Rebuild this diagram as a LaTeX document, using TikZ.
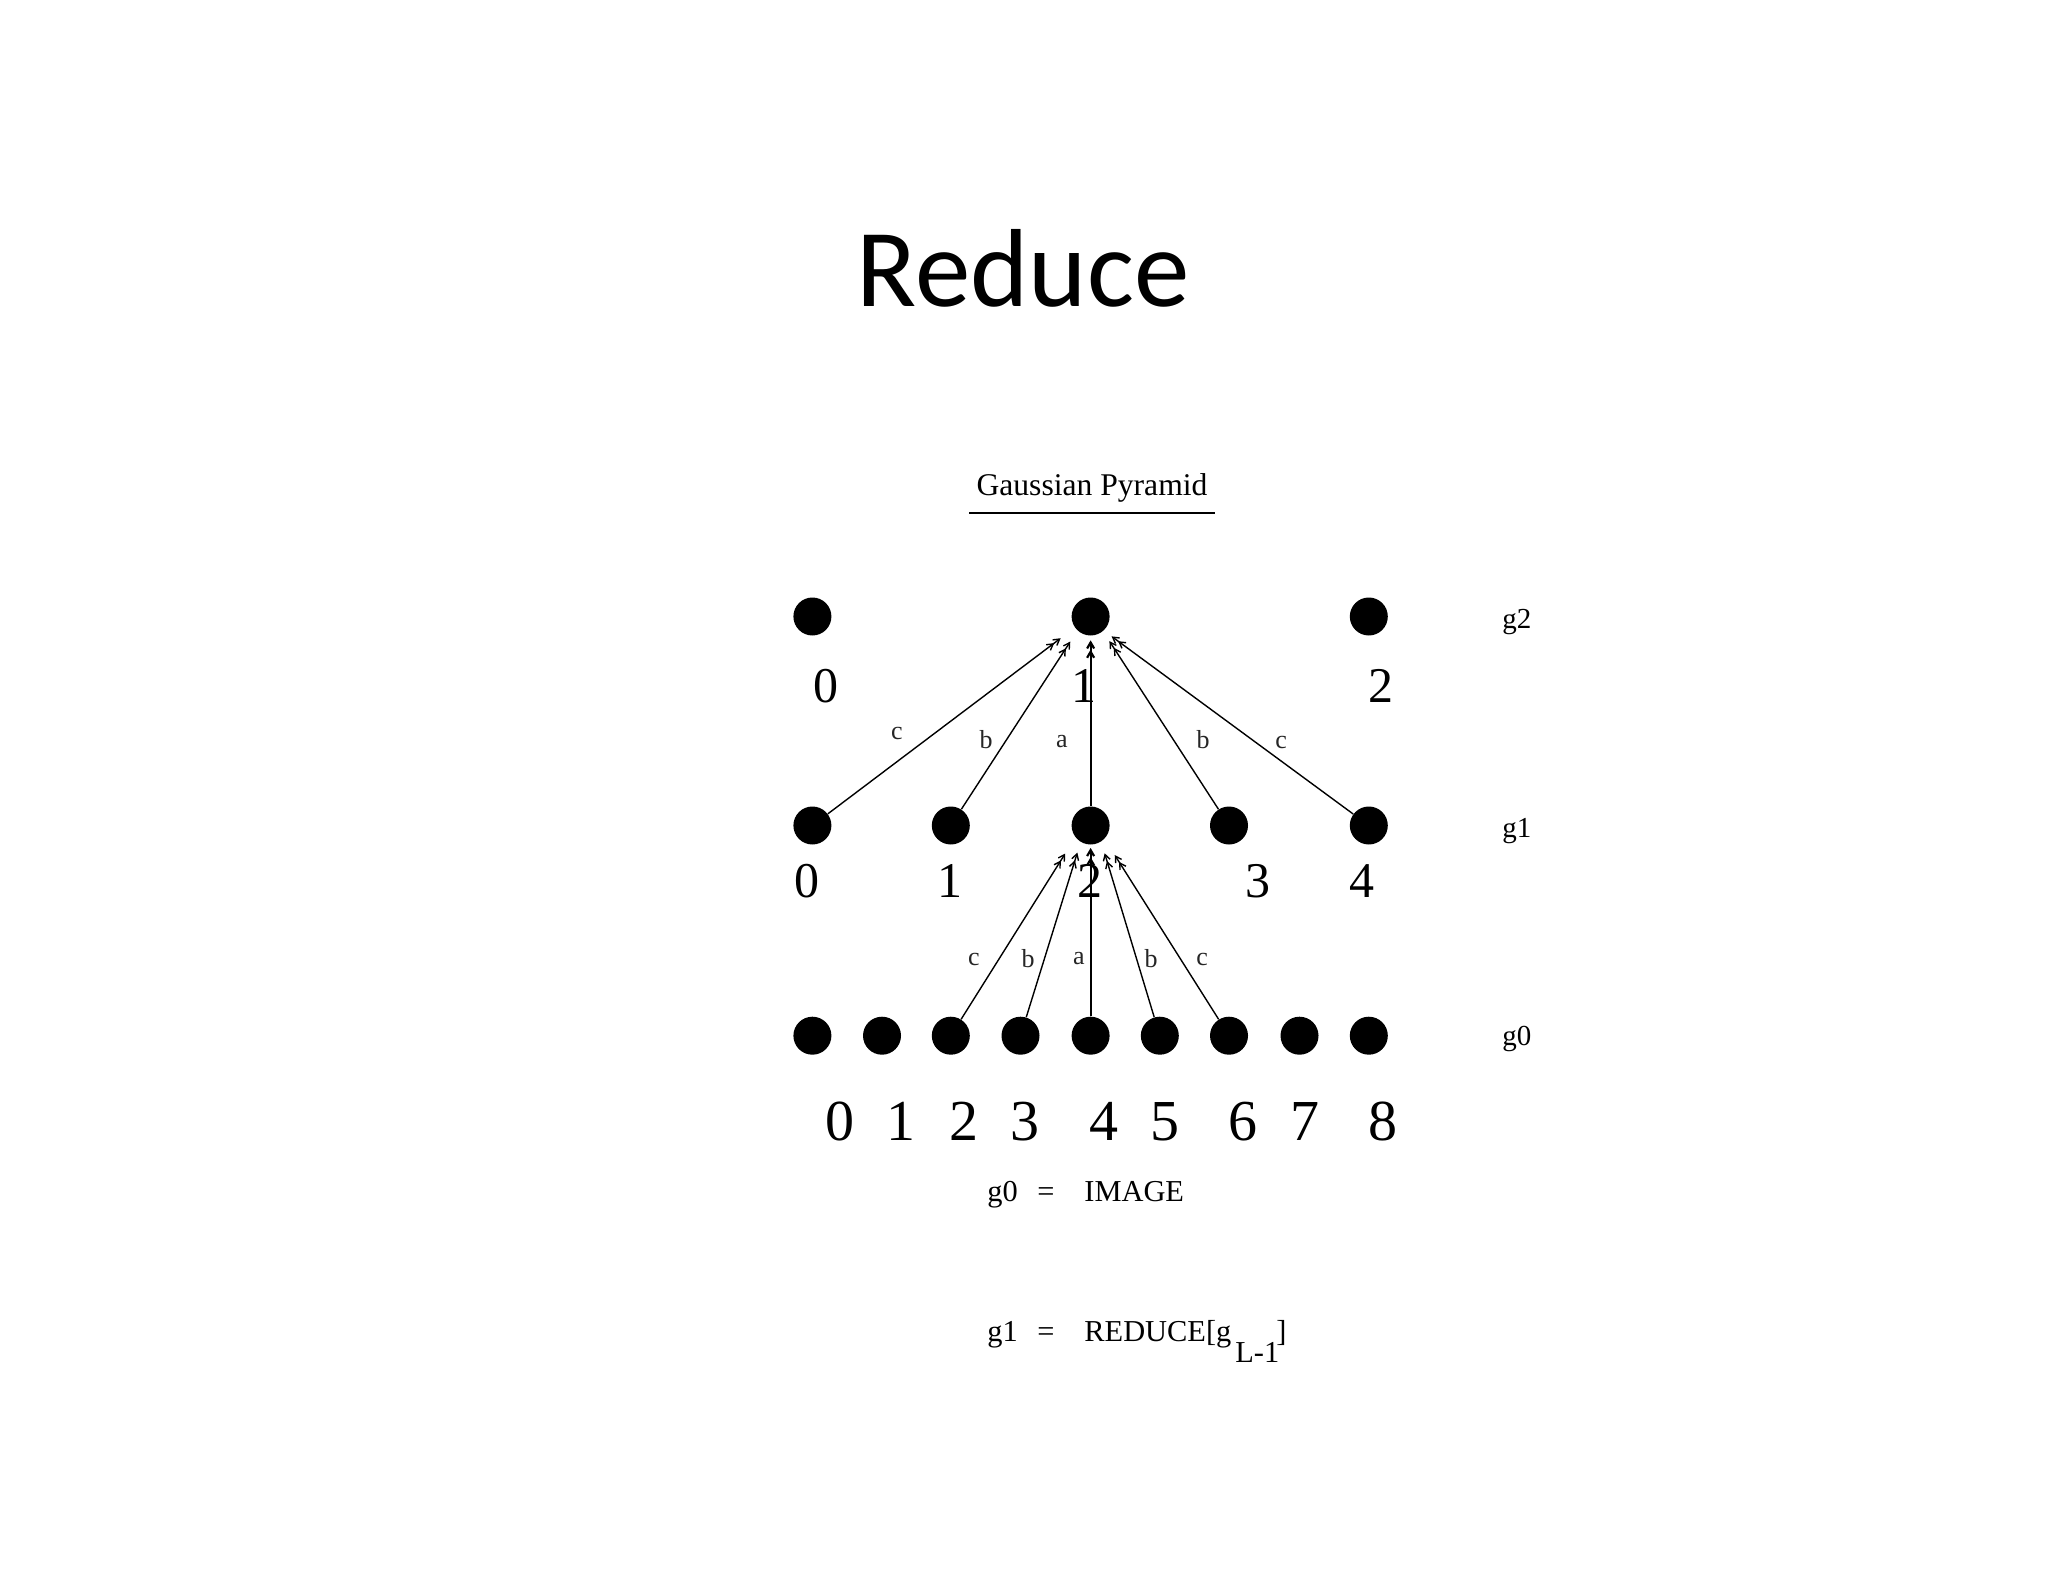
\documentclass[tikz,border=0pt]{standalone}
\usepackage{fontspec}
\setmainfont{Liberation Serif}
\newfontfamily\titlefont{Carlito}
\usetikzlibrary{arrows.meta}
\begin{document}
\begin{tikzpicture}[x=0.5pt,y=-0.5pt,
  dot/.style={circle,fill=black,inner sep=0pt,minimum size=19pt},
  num/.style={anchor=base,font=\fontsize{25}{25}\selectfont,inner sep=0pt},
  bignum/.style={anchor=base,font=\fontsize{29}{29}\selectfont,inner sep=0pt},
  small/.style={font=\fontsize{14.5}{15}\selectfont,inner sep=0pt},
  formula/.style={font=\fontsize{15.2}{16}\selectfont,inner sep=0pt},
  edgelab/.style={font=\fontsize{13}{13}\selectfont,inner sep=0pt,text=black!85},
  tip/.style={-{Straight Barb[length=3pt,width=3.5pt]Straight Barb[length=3pt,width=3.5pt]}},
  arr/.style={tip,line width=0.7pt},
  varr/.style={tip,line width=1.1pt}
]
\useasboundingbox[fill=white] (0,0) rectangle (2048,1582);

% title
\node[font=\titlefont\fontsize{55.5}{56}\selectfont,anchor=base,inner sep=0pt] (title) at (1023,307) {Reduce};

% subtitle
\node[font=\fontsize{15.8}{16}\selectfont,inner sep=0pt,anchor=base] (gp) at (1092,496) {Gaussian Pyramid};
\coordinate (ul1) at (969,513);
\coordinate (ul2) at (1215,513);
\draw[line width=0.9pt] (ul1) -- (ul2);

% g2 row
\node[dot] (a0) at (812.4,616.5) {};
\node[dot] (a1) at (1090.6,616.5) {};
\node[dot] (a2) at (1368.8,616.5) {};

% g1 row
\foreach \i/\x in {0/812.4,1/950.8,2/1090.6,3/1229,4/1368.8}
  \node[dot] (b\i) at (\x,825.5) {};

% g0 row
\foreach \i/\x in {0/812.4,1/882,2/950.8,3/1020.5,4/1090.6,5/1159.8,6/1229,7/1299.5,8/1368.8}
  \node[dot] (c\i) at (\x,1035.7) {};

% numbers
\node[num] (na0) at (825.5,702) {0};
\node[num] (na1) at (1084,702) {1};
\node[num] (na2) at (1381,702) {2};

\foreach \i/\x in {0/807,1/949.5,2/1090,3/1257.7,4/1362}
  \node[num] (nb\i) at (\x,897) {\i};

\foreach \i/\x in {0/839.8,1/901.2,2/963.8,3/1025.2,4/1103.6,5/1165,6/1243.3,7/1304.7,8/1383}
  \node[bignum] (nc\i) at (\x,1140) {\i};

% row labels
\node[small,anchor=base west] (lg2) at (1502,628) {g2};
\node[small,anchor=base west] (lg1) at (1502,837) {g1};
\node[small,anchor=base west] (lg0) at (1502,1045) {g0};

% upper arrows (g1 -> g2)
\draw[arr,shorten >=8.8pt] (b0) -- (a1.215);
\draw[arr,shorten >=6.5pt] (b1) -- (a1.227);
\draw[varr,shorten >=2.2pt] (b2) -- (a1.270);
\draw[arr,shorten >=5.8pt] (b3) -- (a1.310);
\draw[arr,shorten >=4.8pt] (b4) -- (a1.313);

% lower arrows (g0 -> g1)
\draw[arr,shorten >=9.5pt] (c2) -- (b2.218);
\draw[arr,shorten >=5.5pt] (c3) -- (b2.239);
\draw[varr,shorten >=1.5pt] (c4) -- (b2.270);
\draw[arr,shorten >=6pt] (c5) -- (b2.303);
\draw[arr,shorten >=9.5pt] (c6) -- (b2.316);

% edge labels upper
\node[edgelab] (eu1) at (897,733) {c};
\node[edgelab] (eu2) at (986,740) {b};
\node[edgelab] (eu3) at (1062,742) {a};
\node[edgelab] (eu4) at (1203,740) {b};
\node[edgelab] (eu5) at (1281,742) {c};

% edge labels lower
\node[edgelab] (el1) at (974,959) {c};
\node[edgelab] (el2) at (1028,959) {b};
\node[edgelab] (el3) at (1079,959) {a};
\node[edgelab] (el4) at (1151,959) {b};
\node[edgelab] (el5) at (1202,959) {c};

% formulas
\node[formula,anchor=base west] (f1a) at (987,1201.5) {g0};
\node[formula,anchor=base] (f1b) at (1046,1201.5) {=};
\node[formula,anchor=base west] (f1c) at (1084,1201.5) {IMAGE};

\node[formula,anchor=base west] (f2a) at (987,1341) {g1};
\node[formula,anchor=base] (f2b) at (1046,1341) {=};
\node[formula,anchor=base west] (f2c) at (1084,1341) {REDUCE[g};
\node[formula,anchor=base west] (f2d) at (1235,1362) {L-1};
\node[formula,anchor=base west] (f2e) at (1276,1341) {]};
\end{tikzpicture}
\end{document}
